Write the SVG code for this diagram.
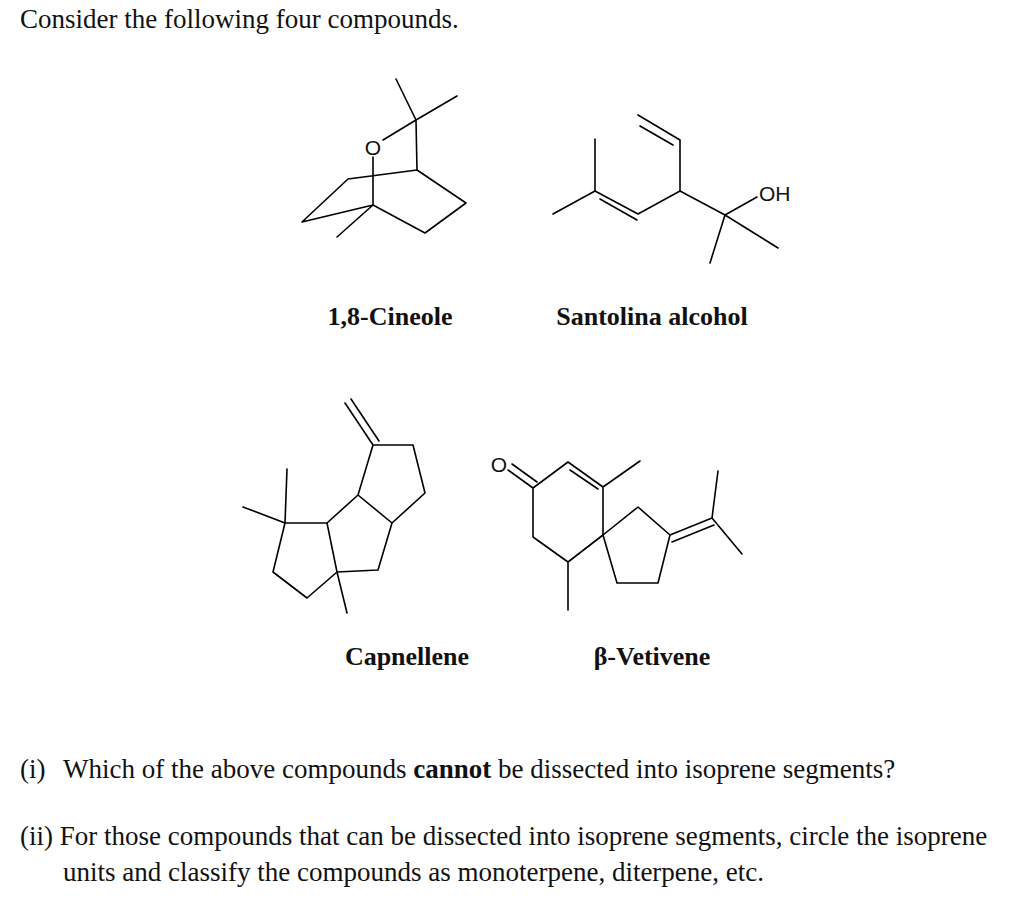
<svg xmlns="http://www.w3.org/2000/svg" width="1024" height="905" viewBox="0 0 1024 905">
<style>
.b{stroke:#000;stroke-width:1.6;fill:none;stroke-linecap:round;stroke-linejoin:round}
.t{font-family:"Liberation Serif",serif;font-size:27px;fill:#111}
.l{font-family:"Liberation Serif",serif;font-size:26px;font-weight:bold;fill:#111;text-anchor:middle}
.a{font-family:"Liberation Sans",sans-serif;font-size:21px;fill:#111}
</style>
<rect width="1024" height="905" fill="#fff"/>
<text class="t" x="20" y="28">Consider the following four compounds.</text>
<g id="cineole" class="b">
<path d="M396,79L416,120L457,96M416,120L383,140M416,120L417,170L348,179L302,222L373,205L425,233L466,203L417,170M373,157L373,205L337,237"/>
<text class="a" x="373" y="155" text-anchor="middle" stroke="none">O</text>
</g>
<g id="santolina" class="b">
<path d="M553,214L595,191L595,139M595,191L638,214L680,191L680,140L638,115M600,199L637,220M673,145L640,126M680,191L725,215L757,197M725,215L710,263M725,215L778,248"/>
<text class="a" x="759" y="201" stroke="none">OH</text>
</g>
<g id="capnellene" class="b">
<path d="M373,445L345,403M379,441L351,399M373,445L413,445L425,493L392,523L358,495L373,445M392,523L378,570L337,572L327,523L358,495M337,572L307,598L273,572L285,523L327,523M285,523L243,507M285,523L287,469M337,572L347,613"/>
</g>
<g id="vetivene" class="b">
<path d="M508,470L533,488M512,464L537,482M533,488L568,462L603,487M570,470L598,489M603,487L640,461M603,487L603,535L568,562L533,537L533,488M568,562L568,610M603,535L638,507L670,535L658,583L617,583L603,535M670,535L712,518M672,542L714,525M712,518L718,471M712,518L742,554"/>
<text class="a" x="499" y="472" text-anchor="middle" stroke="none">O</text>
</g>
<text class="l" x="390" y="325">1,8-Cineole</text>
<text class="l" x="652" y="325">Santolina alcohol</text>
<text class="l" x="407" y="665">Capnellene</text>
<text class="l" x="652" y="665">β-Vetivene</text>
<text class="t" x="20" y="778">(i)</text>
<text class="t" x="63" y="778">Which of the above compounds <tspan font-weight="bold">cannot</tspan> be dissected into isoprene segments?</text>
<text class="t" x="20" y="845">(ii) For those compounds that can be dissected into isoprene segments, circle the isoprene</text>
<text class="t" x="63" y="881">units and classify the compounds as monoterpene, diterpene, etc.</text>
</svg>
